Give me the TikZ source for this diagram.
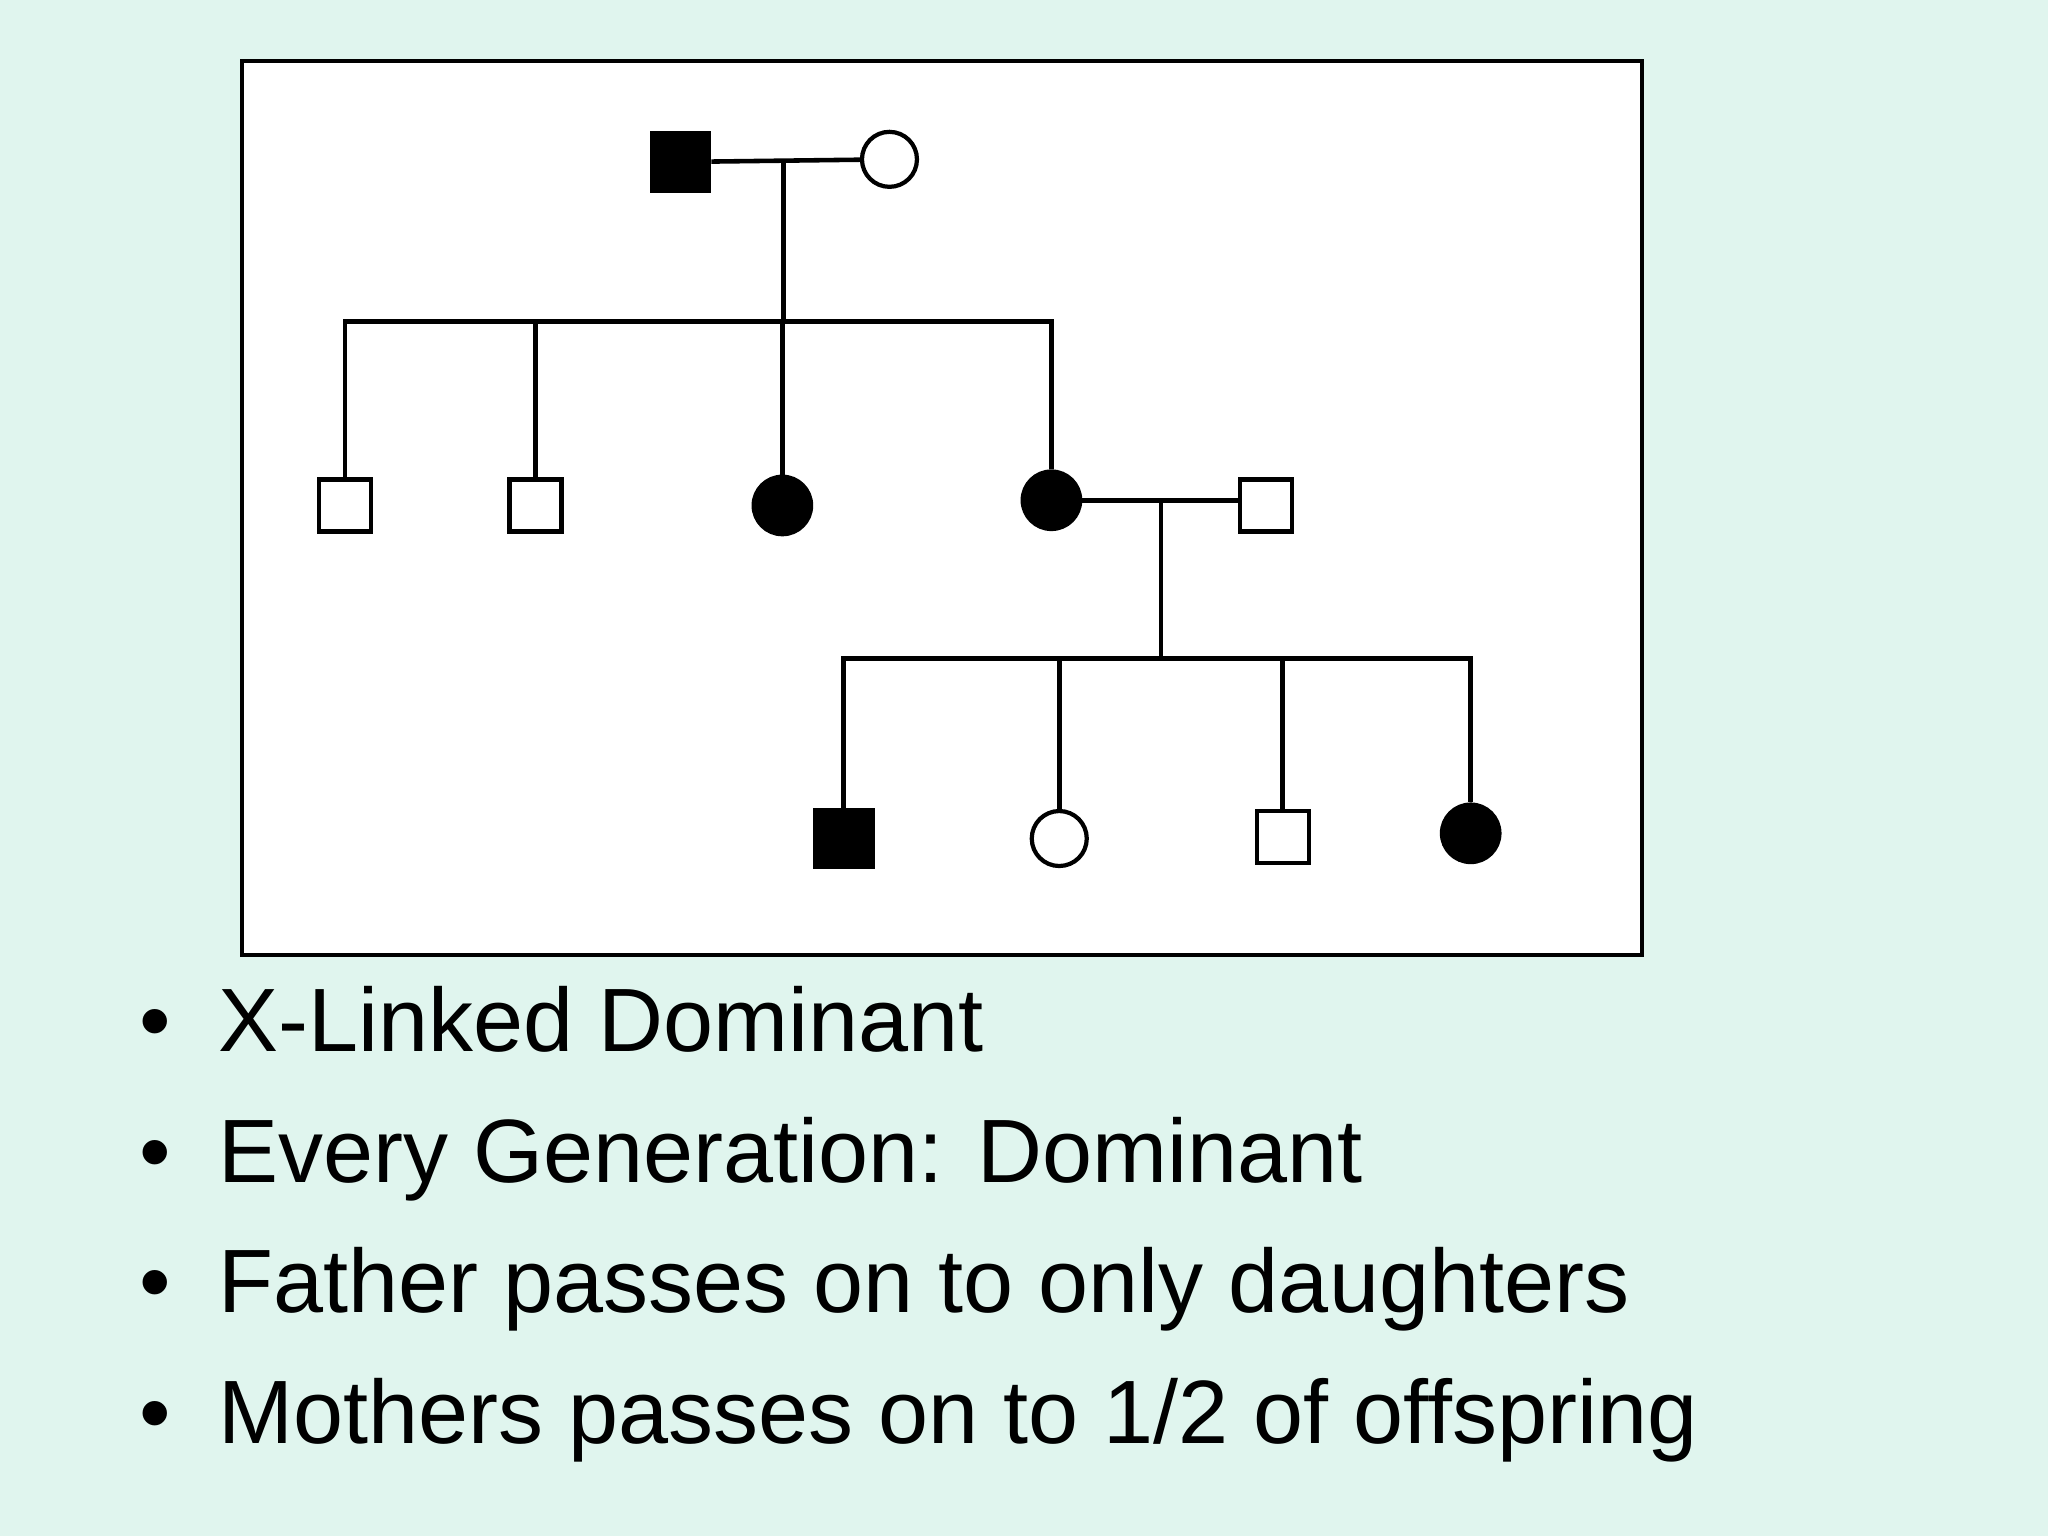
\documentclass[tikz,border=0pt]{standalone}
\usepackage{fontspec}
\setmainfont{Liberation Sans}
\definecolor{slide}{RGB}{224,245,238}
\tikzstyle{male}=[rectangle,draw,line width=1.2pt,minimum size=0.52cm,inner sep=0pt]
\tikzstyle{female}=[circle,draw,line width=1.2pt,minimum size=0.55cm,inner sep=0pt]
\tikzstyle{bigmale}=[male,minimum size=0.575cm]
\tikzstyle{affected}=[fill=black]
\tikzstyle{line}=[line width=1.3pt]
\tikzstyle{bullet}=[anchor=base west,font=\fontsize{25.6}{30}\selectfont,inner sep=0pt]
\begin{document}
\begin{tikzpicture}[x=0.01306cm,y=-0.01306cm]
  \fill[slide] (0,0) rectangle (1568,1176);
  \useasboundingbox (0,0) rectangle (1568,1176);
  \draw[fill=white,line width=1.2pt] (185,47) rectangle (1257,731);

  %% generation 1
  \draw (521,124) node[bigmale,affected] (P11) {};
  \draw (681,122) node[female] (P12) {};
  \coordinate (M1) at (600,123);
  \coordinate (S1) at (600,246);

  %% generation 2
  \draw (264,387) node[male] (P21) {};
  \draw (410,387) node[male] (P22) {};
  \draw (599,387) node[female,affected,minimum size=0.575cm] (P23) {};
  \draw (805,383) node[female,affected,minimum size=0.575cm] (P24) {};
  \draw (969,387) node[male] (P25) {};
  \coordinate (M2) at (889,384);
  \coordinate (S2) at (889,504);

  %% generation 3
  \draw (646,642) node[bigmale,affected] (P31) {};
  \draw (811,642) node[female] (P32) {};
  \draw (982,641) node[male] (P33) {};
  \draw (1126,638) node[female,affected,minimum size=0.575cm] (P34) {};

  %% mating and descent lines
  \draw[line] (P11) -- (P12);
  \draw[line] (M1) -- (S1);
  \draw[line] (P21.north) |- (S1) -| (P24.north);
  \draw[line] (P22.north) -- (P22.north |- S1);
  \draw[line] (P23.north) -- (P23.north |- S1);
  \draw[line] (P24.east) -- (P25.west |- P24.east);
  \draw[line] (M2) -- (S2);
  \draw[line] (P31.north) |- (S2) -| (P34.north);
  \draw[line] (P32.north) -- (P32.north |- S2);
  \draw[line] (P33.north) -- (P33.north |- S2);

  %% text
  \foreach \t [count=\i] in {X-Linked Dominant,Every Generation: Dominant,Father passes on to only daughters,Mothers passes on to 1/2 of offspring}{
    \node[bullet] (B\i) at (106,705+100*\i) {•};
    \node[bullet] (T\i) at (167,705+100*\i) {\t};
  }
\end{tikzpicture}
\end{document}
